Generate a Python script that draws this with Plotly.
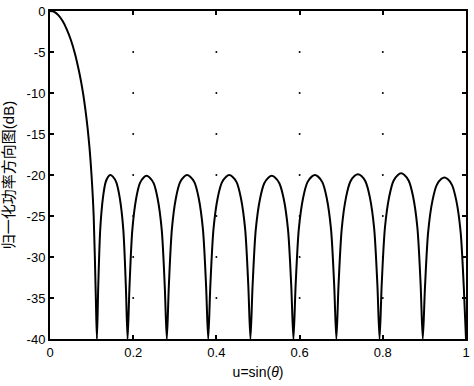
import plotly.graph_objects as go

# ---- data ----
u = [0, 0.01, 0.02, 0.03, 0.04, 0.05, 0.06, 0.07, 0.075, 0.08, 0.085, 0.09, 0.095, 0.0998, 0.105, 0.11, 0.1128,
     0.1160, 0.1208, 0.1272, 0.1336, 0.1400, 0.1448, 0.1511, 0.1594, 0.1677, 0.1761, 0.1823, 0.1865,
     0.1911, 0.1979, 0.2070, 0.2161, 0.2252, 0.2320, 0.2393, 0.2491, 0.2588, 0.2686, 0.2759, 0.2808,
     0.2857, 0.2930, 0.3027, 0.3125, 0.3222, 0.3295, 0.3371, 0.3473, 0.3574, 0.3676, 0.3752, 0.3803,
     0.3854, 0.3930, 0.4031, 0.4133, 0.4234, 0.4310, 0.4386, 0.4488, 0.4589, 0.4691, 0.4767, 0.4818,
     0.4869, 0.4946, 0.5049, 0.5151, 0.5254, 0.5331, 0.5409, 0.5513, 0.5618, 0.5722, 0.5800, 0.5852,
     0.5904, 0.5981, 0.6084, 0.6187, 0.6291, 0.6368, 0.6445, 0.6549, 0.6652, 0.6755, 0.6832, 0.6884,
     0.6936, 0.7014, 0.7117, 0.7221, 0.7324, 0.7402, 0.7480, 0.7584, 0.7688, 0.7792, 0.7870, 0.7922,
     0.7974, 0.8052, 0.8156, 0.8259, 0.8363, 0.8441, 0.8519, 0.8623, 0.8727, 0.8831, 0.8909, 0.8961,
     0.9013, 0.9091, 0.9195, 0.9298, 0.9402, 0.9480, 0.9558, 0.9662, 0.9766, 0.9870, 0.9948, 1.0]

level_db = [0, -0.1, -0.5, -1.2, -2.2, -3.5, -5.2, -7.4, -8.7, -10.2, -12.0, -14.1, -16.7, -20.0, -25.0, -34.6, -40,
            -33.5, -26.6, -22.8, -20.9, -20.2, -20.0, -20.2, -20.9, -22.8, -26.6, -33.5, -40,
            -33.6, -26.7, -22.9, -21.0, -20.3, -20.1, -20.3, -21.0, -22.9, -26.7, -33.6, -40,
            -33.5, -26.6, -22.8, -20.9, -20.2, -20.0, -20.2, -20.9, -22.8, -26.6, -33.5, -40,
            -33.5, -26.6, -22.8, -20.9, -20.2, -20.0, -20.2, -20.9, -22.8, -26.6, -33.5, -40,
            -33.6, -26.7, -22.9, -21.0, -20.3, -20.1, -20.3, -21.0, -22.9, -26.7, -33.6, -40,
            -33.5, -26.6, -22.8, -20.9, -20.2, -20.0, -20.2, -20.9, -22.8, -26.6, -33.5, -40,
            -33.4, -26.5, -22.7, -20.8, -20.1, -19.9, -20.1, -20.8, -22.7, -26.5, -33.4, -40,
            -33.3, -26.4, -22.6, -20.7, -20.0, -19.8, -20.0, -20.7, -22.6, -26.4, -33.3, -40,
            -33.8, -26.9, -23.1, -21.2, -20.5, -20.3, -20.5, -21.2, -23.1, -26.9, -33.8, -40]

x_ticks = [0, 0.2, 0.4, 0.6, 0.8, 1]
x_labels = ["0", "0.2", "0.4", "0.6", "0.8", "1"]
y_ticks = [0, -5, -10, -15, -20, -25, -30, -35, -40]
y_labels = ["0", "-5", "-10", "-15", "-20", "-25", "-30", "-35", "-40"]

x_title = "u=sin(<i>θ</i>)"
y_title = "归一化功率方向图(dB)"

# grid dots at inner tick intersections
gx, gy = [], []
for xv in x_ticks[1:-1]:
    for yv in y_ticks[1:-1]:
        gx.append(xv)
        gy.append(yv)

fig = go.Figure()
fig.add_trace(go.Scatter(x=gx, y=gy, mode="markers",
                         marker=dict(size=2, color="black"),
                         hoverinfo="skip", showlegend=False))
fig.add_trace(go.Scatter(x=u, y=level_db, mode="lines",
                         line=dict(color="black", width=2, shape="spline", smoothing=0.8),
                         hoverinfo="skip", showlegend=False))

font_family = "Liberation Sans, Arial, Noto Sans CJK SC, sans-serif"
axis_common = dict(showline=True, linecolor="black", linewidth=2, mirror="ticks",
                   ticks="inside", ticklen=4, tickwidth=1.5, tickcolor="black",
                   showgrid=False, zeroline=False, automargin=False,
                   ticklabeloverflow="allow",
                   tickfont=dict(family=font_family, size=13, color="black"))

fig.update_layout(
    width=474, height=386,
    margin=dict(l=50, r=8, t=11, b=47),
    paper_bgcolor="white", plot_bgcolor="white",
    showlegend=False, hovermode=False,
    font=dict(family=font_family, color="black"),
    xaxis=dict(range=[0, 1], tickvals=x_ticks, ticktext=x_labels,
               title=dict(text=x_title, font=dict(size=14, family=font_family), standoff=9),
               **axis_common),
    yaxis=dict(range=[-40, 0], tickvals=y_ticks, ticktext=y_labels,
               title=dict(text=y_title, font=dict(size=15, family=font_family), standoff=9),
               **axis_common),
)

# remove the default 8px page margin so the figure sits at the window's corner
fig.write_html("out.html", config={"displayModeBar": False},
               post_script="document.body.style.margin='0px';")
